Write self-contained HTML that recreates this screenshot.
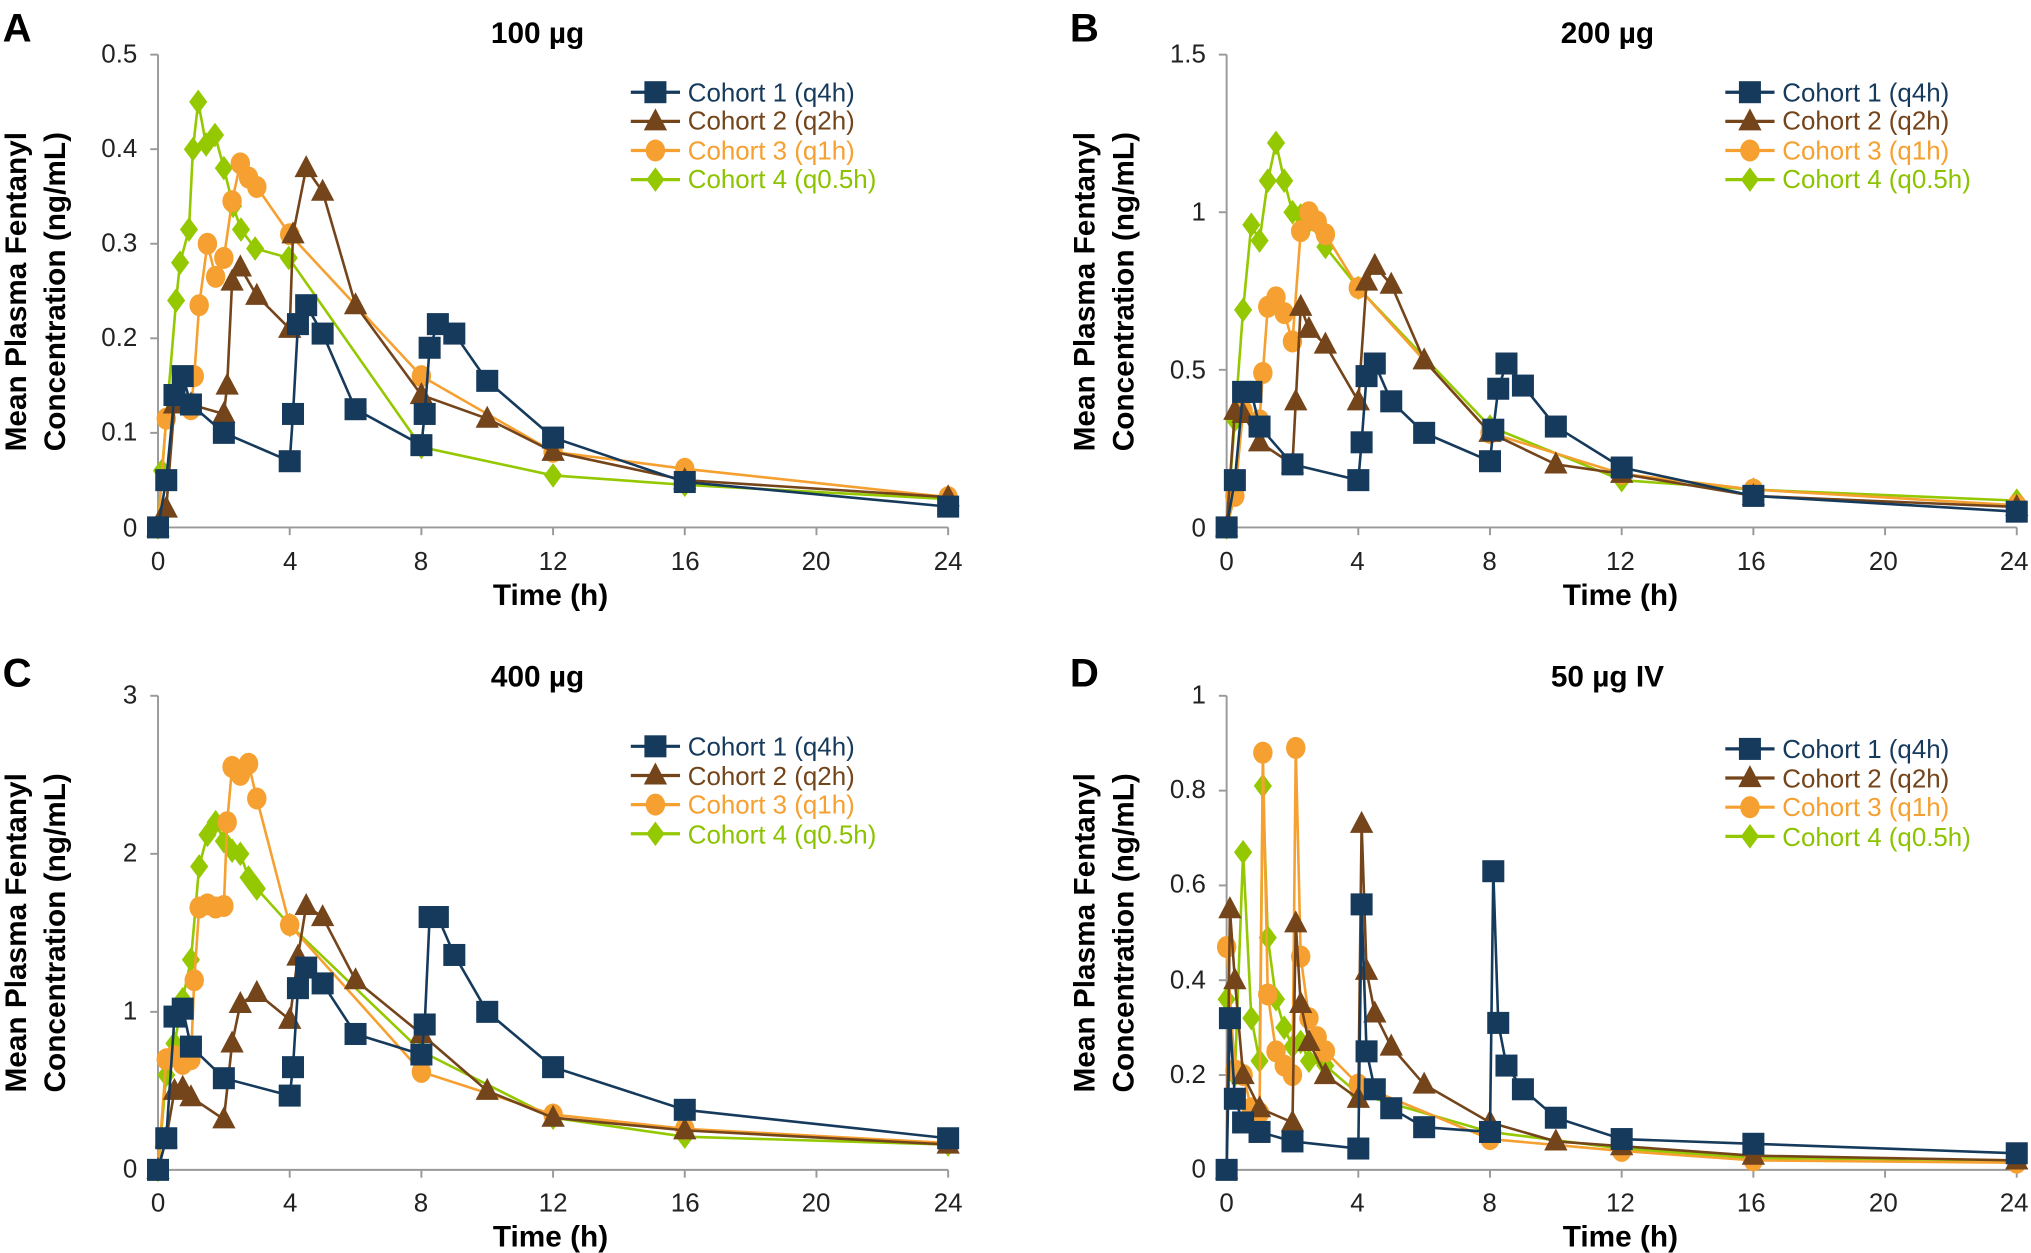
<!DOCTYPE html>
<html><head><meta charset="utf-8"><style>
html,body{margin:0;padding:0;background:#fff;}
svg{display:block;}
text{font-family:"Liberation Sans",sans-serif;}
.tk{font-size:20px;fill:#222;}
.b{font-weight:bold;}
.ax{stroke:#999;stroke-width:1.5;fill:none;}
</style></head><body>
<svg id="s" width="2031" height="1253" viewBox="0 0 1568 967" xmlns="http://www.w3.org/2000/svg">
<g id="static">
<text x="2" y="32" font-size="31" class="b">A</text>
<text x="826" y="32" font-size="31" class="b">B</text>
<text x="2" y="530" font-size="31" class="b">C</text>
<text x="826" y="530" font-size="31" class="b">D</text>
<text x="415" y="33" font-size="23" class="b" text-anchor="middle">100 µg</text>
<text x="1241" y="33" font-size="23" class="b" text-anchor="middle">200 µg</text>
<text x="415" y="530" font-size="23" class="b" text-anchor="middle">400 µg</text>
<text x="1241" y="530" font-size="23" class="b" text-anchor="middle">50 µg IV</text>
<text x="425" y="467" font-size="23" class="b" text-anchor="middle">Time (h)</text>
<text x="1251" y="467" font-size="23" class="b" text-anchor="middle">Time (h)</text>
<text x="425" y="962" font-size="23" class="b" text-anchor="middle">Time (h)</text>
<text x="1251" y="962" font-size="23" class="b" text-anchor="middle">Time (h)</text>
<g font-size="23" class="b" text-anchor="middle">
<text transform="translate(20,225) rotate(-90)">Mean Plasma Fentanyl</text>
<text transform="translate(50,225) rotate(-90)">Concentration (ng/mL)</text>
<text transform="translate(845,225) rotate(-90)">Mean Plasma Fentanyl</text>
<text transform="translate(875,225) rotate(-90)">Concentration (ng/mL)</text>
<text transform="translate(20,720) rotate(-90)">Mean Plasma Fentanyl</text>
<text transform="translate(50,720) rotate(-90)">Concentration (ng/mL)</text>
<text transform="translate(845,720) rotate(-90)">Mean Plasma Fentanyl</text>
<text transform="translate(875,720) rotate(-90)">Concentration (ng/mL)</text>
</g>
<g class="tk" text-anchor="end">
<text x="106" y="48">0.5</text><text x="106" y="121">0.4</text><text x="106" y="194">0.3</text><text x="106" y="267">0.2</text><text x="106" y="340">0.1</text><text x="106" y="414">0</text>
<text x="931" y="48">1.5</text><text x="931" y="170">1</text><text x="931" y="292">0.5</text><text x="931" y="414">0</text>
<text x="106" y="543">3</text><text x="106" y="665">2</text><text x="106" y="787">1</text><text x="106" y="909">0</text>
<text x="931" y="543">1</text><text x="931" y="616">0.8</text><text x="931" y="689">0.6</text><text x="931" y="763">0.4</text><text x="931" y="836">0.2</text><text x="931" y="909">0</text>
</g>
<g class="tk" text-anchor="middle">
<text x="122" y="440">0</text><text x="224" y="440">4</text><text x="325" y="440">8</text><text x="427" y="440">12</text><text x="529" y="440">16</text><text x="630" y="440">20</text><text x="732" y="440">24</text>
<text x="947" y="440">0</text><text x="1048" y="440">4</text><text x="1150" y="440">8</text><text x="1251" y="440">12</text><text x="1352" y="440">16</text><text x="1454" y="440">20</text><text x="1555" y="440">24</text>
<text x="122" y="935">0</text><text x="224" y="935">4</text><text x="325" y="935">8</text><text x="427" y="935">12</text><text x="529" y="935">16</text><text x="630" y="935">20</text><text x="732" y="935">24</text>
<text x="947" y="935">0</text><text x="1048" y="935">4</text><text x="1150" y="935">8</text><text x="1251" y="935">12</text><text x="1352" y="935">16</text><text x="1454" y="935">20</text><text x="1555" y="935">24</text>
</g>
<g font-size="20">
<text x="531" y="78" fill="#163a5c">Cohort 1 (q4h)</text><text x="531" y="100" fill="#74441a">Cohort 2 (q2h)</text><text x="531" y="123" fill="#f5a030">Cohort 3 (q1h)</text><text x="531" y="145" fill="#8cc300">Cohort 4 (q0.5h)</text>
<text x="1376" y="78" fill="#163a5c">Cohort 1 (q4h)</text><text x="1376" y="100" fill="#74441a">Cohort 2 (q2h)</text><text x="1376" y="123" fill="#f5a030">Cohort 3 (q1h)</text><text x="1376" y="145" fill="#8cc300">Cohort 4 (q0.5h)</text>
<text x="531" y="583" fill="#163a5c">Cohort 1 (q4h)</text><text x="531" y="606" fill="#74441a">Cohort 2 (q2h)</text><text x="531" y="628" fill="#f5a030">Cohort 3 (q1h)</text><text x="531" y="651" fill="#8cc300">Cohort 4 (q0.5h)</text>
<text x="1376" y="585" fill="#163a5c">Cohort 1 (q4h)</text><text x="1376" y="608" fill="#74441a">Cohort 2 (q2h)</text><text x="1376" y="630" fill="#f5a030">Cohort 3 (q1h)</text><text x="1376" y="653" fill="#8cc300">Cohort 4 (q0.5h)</text>
</g>
</g>
<g id="dyn"></g>
</svg>
<script>
var C=["#163a5c","#74441a","#f5a030","#94c800"];
var P=[
{x0:122,y0:407,yt:42,ym:0.5,ticks:[0,.1,.2,.3,.4,.5],lx:487,ly:71,
d:[[[0,0],[.25,.05],[.5,.14],[.75,.16],[1,.13],[2,.1],[4,.07],[4.1,.12],[4.25,.215],[4.5,.235],[5,.205],[6,.125],[8,.087],[8.1,.12],[8.25,.19],[8.5,.215],[9,.205],[10,.155],[12,.095],[16,.048],[24,.022]],
[[0,0],[.25,.02],[.5,.13],[1,.13],[2,.12],[2.1,.15],[2.25,.26],[2.5,.275],[3,.245],[4,.21],[4.1,.31],[4.5,.38],[5,.355],[6,.235],[8,.14],[10,.115],[12,.08],[16,.05],[24,.032]],
[[0,0],[.25,.115],[.5,.14],[1,.125],[1.1,.16],[1.25,.235],[1.5,.3],[1.75,.265],[2,.285],[2.25,.345],[2.5,.385],[2.75,.37],[3,.36],[4,.31],[8,.16],[12,.08],[16,.062],[24,.032]],
[[0,0],[.12,.06],[.55,.24],[.67,.28],[.94,.315],[1.06,.4],[1.22,.45],[1.46,.405],[1.73,.415],[2.0,.38],[2.28,.34],[2.52,.315],[2.95,.295],[3.97,.285],[8,.085],[12,.055],[16,.045],[24,.03]]]},
{x0:947,y0:407,yt:42,ym:1.5,ticks:[0,.5,1,1.5],lx:1332,ly:71,
d:[[[0,0],[.25,.15],[.5,.43],[.75,.43],[1,.32],[2,.2],[4,.15],[4.1,.27],[4.25,.48],[4.5,.52],[5,.4],[6,.3],[8,.21],[8.1,.31],[8.25,.44],[8.5,.52],[9,.45],[10,.32],[12,.19],[16,.1],[24,.05]],
[[0,0],[.25,.37],[.5,.36],[1,.27],[2,.2],[2.1,.4],[2.25,.7],[2.5,.63],[3,.58],[4,.4],[4.25,.78],[4.5,.83],[5,.77],[6,.53],[8,.3],[10,.2],[12,.17],[16,.1],[24,.065]],
[[0,0],[.25,.1],[.5,.37],[1,.34],[1.1,.49],[1.25,.7],[1.5,.73],[1.75,.68],[2,.59],[2.25,.94],[2.5,1],[2.75,.97],[3,.93],[4,.76],[8,.3],[12,.17],[16,.12],[24,.07]],
[[0,0],[.25,.34],[.5,.69],[.75,.96],[1,.91],[1.25,1.1],[1.5,1.22],[1.75,1.1],[2,1],[2.25,.99],[2.5,.97],[3,.89],[4,.76],[8,.32],[12,.15],[16,.12],[24,.085]]]},
{x0:122,y0:903,yt:537,ym:3,ticks:[0,1,2,3],lx:487,ly:576,
d:[[[0,0],[.25,.2],[.5,.97],[.75,1.02],[1,.78],[2,.58],[4,.47],[4.1,.65],[4.25,1.15],[4.5,1.28],[5,1.18],[6,.86],[8,.73],[8.1,.92],[8.25,1.6],[8.5,1.6],[9,1.36],[10,1],[12,.65],[16,.38],[24,.2]],
[[0,0],[.25,.2],[.5,.5],[.75,.52],[1,.46],[2,.32],[2.25,.8],[2.5,1.05],[3,1.12],[4,.95],[4.25,1.35],[4.5,1.67],[5,1.6],[6,1.2],[8,.86],[10,.5],[12,.33],[16,.25],[24,.16]],
[[0,0],[.25,.7],[.5,.72],[.75,.67],[1,.7],[1.1,1.2],[1.25,1.66],[1.5,1.68],[1.75,1.66],[2,1.67],[2.1,2.2],[2.25,2.55],[2.5,2.5],[2.75,2.57],[3,2.35],[4,1.55],[8,.62],[12,.35],[16,.26],[24,.17]],
[[0,0],[.25,.6],[.5,.8],[.75,1.08],[1,1.33],[1.25,1.92],[1.5,2.12],[1.75,2.2],[2,2.08],[2.25,2.02],[2.5,2],[2.75,1.85],[3,1.78],[4,1.55],[8,.75],[12,.33],[16,.21],[24,.16]]]},
{x0:947,y0:903,yt:537,ym:1,ticks:[0,.2,.4,.6,.8,1],lx:1332,ly:578,
d:[[[0,0],[.1,.32],[.25,.15],[.5,.1],[1,.08],[2,.06],[4,.045],[4.1,.56],[4.25,.25],[4.5,.17],[5,.13],[6,.09],[8,.08],[8.1,.63],[8.25,.31],[8.5,.22],[9,.17],[10,.11],[12,.065],[16,.055],[24,.035]],
[[0,0],[.1,.55],[.25,.4],[.5,.2],[1,.13],[2,.1],[2.1,.52],[2.25,.35],[2.5,.27],[3,.2],[4,.15],[4.1,.73],[4.25,.42],[4.5,.33],[5,.26],[6,.18],[8,.1],[10,.06],[12,.05],[16,.03],[24,.02]],
[[0,.47],[.25,.21],[.5,.2],[.75,.13],[1,.12],[1.1,.88],[1.25,.37],[1.5,.25],[1.75,.22],[2,.2],[2.1,.89],[2.25,.45],[2.5,.32],[2.75,.28],[3,.25],[4,.18],[8,.065],[12,.04],[16,.02],[24,.015]],
[[0,.36],[.25,.2],[.5,.67],[.75,.32],[1,.23],[1.1,.81],[1.25,.49],[1.5,.36],[1.75,.3],[2,.26],[2.25,.27],[2.5,.23],[3,.22],[4,.16],[8,.08],[12,.045],[16,.025],[24,.02]]]}
];
function mk(k,x,y){var c=C[k];
if(k==0)return '<rect x="'+(x-8.5)+'" y="'+(y-8.5)+'" width="17" height="17" fill="'+c+'"/>';
if(k==1)return '<polygon points="'+x+','+(y-10)+' '+(x+9)+','+(y+7)+' '+(x-9)+','+(y+7)+'" fill="'+c+'"/>';
if(k==2)return '<ellipse cx="'+x+'" cy="'+y+'" rx="7.5" ry="8.5" fill="'+c+'"/>';
return '<polygon points="'+x+','+(y-9.5)+' '+(x+7)+','+y+' '+x+','+(y+9.5)+' '+(x-7)+','+y+'" fill="'+c+'"/>';}
var h='';
P.forEach(function(p){
 var sx=(610)/24, sy=(p.y0-p.yt)/p.ym;
 h+='<line class="ax" x1="'+p.x0+'" y1="'+p.yt+'" x2="'+p.x0+'" y2="'+p.y0+'"/>';
 h+='<line class="ax" x1="'+p.x0+'" y1="'+p.y0+'" x2="'+(p.x0+610)+'" y2="'+p.y0+'"/>';
 p.ticks.forEach(function(t){var y=p.y0-t*sy;h+='<line class="ax" x1="'+(p.x0-6)+'" y1="'+y+'" x2="'+p.x0+'" y2="'+y+'"/>';});
 for(var t=0;t<=24;t+=4){var x=p.x0+t*sx;h+='<line class="ax" x1="'+x+'" y1="'+p.y0+'" x2="'+x+'" y2="'+(p.y0+6)+'"/>';}
 for(var k=3;k>=0;k--){
  var pts=p.d[k].map(function(q){return [p.x0+q[0]*sx,p.y0-q[1]*sy];});
  h+='<polyline fill="none" stroke-width="2" stroke="'+C[k]+'" points="'+pts.map(function(q){return q.join(',');}).join(' ')+'"/>';
  pts.forEach(function(q){h+=mk(k,q[0],q[1]);});
 }
 for(var k=0;k<4;k++){var y=p.ly+k*22.5;
  h+='<line x1="'+p.lx+'" y1="'+y+'" x2="'+(p.lx+38)+'" y2="'+y+'" stroke="'+C[k]+'" stroke-width="2.5"/>'+mk(k,p.lx+19,y);}
});
document.getElementById('dyn').innerHTML=h;
</script>
</body></html>
